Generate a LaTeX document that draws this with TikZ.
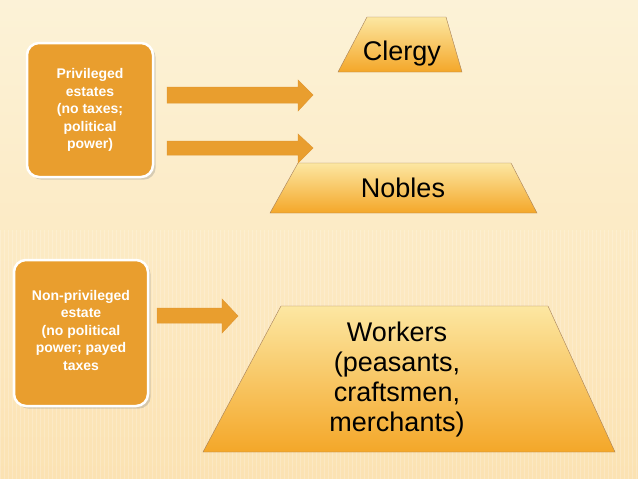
\documentclass[tikz,border=0pt]{standalone}
\usepackage{fontspec}
\setmainfont{Liberation Sans}
\usetikzlibrary{shadows}
\definecolor{bgc}{HTML}{FBEDC6}
\definecolor{orng}{HTML}{E99E2E}
\definecolor{trtop}{HTML}{FCE7A2}
\definecolor{trbot}{HTML}{F4A729}
\tikzset{
  estate/.style={draw=white,line width=2.5pt,fill=orng,rounded corners=12pt,drop shadow={opacity=0.3}},
  etext/.style={text=white,font=\bfseries\fontsize{14}{17.5}\selectfont,align=center},
  tier/.style={top color=trtop,bottom color=trbot,draw=gray!70!orange,line width=0.4pt},
  ttext/.style={font=\fontsize{27}{30}\selectfont,align=center,text=black},
  bigarrow/.style={fill=orng,draw=orng!80!brown,line width=0.5pt}
}
\begin{document}
\begin{tikzpicture}[x=1pt,y=-1pt]
\useasboundingbox (0,0) rectangle (638,479);
\fill[top color=bgc!70!white,bottom color=bgc!90!orange] (0,0) rectangle (638,479);
\foreach \i in {0,4,...,638} {\draw[white,opacity=0.2,line width=0.8pt] (\i,230) -- (\i,479);}
% estate boxes
\draw[estate] (27,43) rectangle (153,177);
\node[etext] (priv) at (90,110) {Privileged\\estates\\(no taxes;\\political\\power)};
\draw[estate] (14,260) rectangle (148,406);
\node[etext] (nonpriv) at (81,330) {Non-privileged\\estate\\(no political\\power; payed\\taxes};
% tiers
\draw[tier] (367,17) -- (446,17) -- (462,72) -- (338,72) -- cycle;
\node[ttext] (clergy) at (402,54) {Clergy};
\draw[tier] (298,163) -- (511,163) -- (537,213) -- (270,213) -- cycle;
\node[ttext] (nobles) at (403,188) {Nobles};
\draw[tier] (281,306) -- (548,306) -- (615,452) -- (203,452) -- cycle;
\node[ttext] (workers) at (397,380) {Workers\\(peasants,\\craftsmen,\\merchants)};
% arrows
\draw[bigarrow] (167,87) -- (298,87) -- (298,80) -- (313,95) -- (298,111) -- (298,103) -- (167,103) -- cycle;
\draw[bigarrow] (167,141) -- (298,141) -- (298,134) -- (313,148) -- (298,163) -- (298,155) -- (167,155) -- cycle;
\draw[bigarrow] (157,308) -- (222,308) -- (222,299) -- (238,316) -- (222,333) -- (222,323) -- (157,323) -- cycle;
\end{tikzpicture}
\end{document}
